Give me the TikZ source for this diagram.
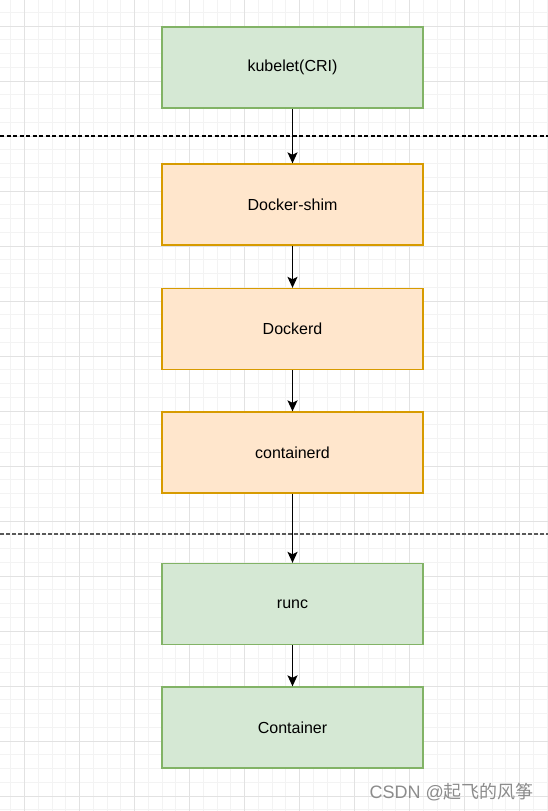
\documentclass[tikz,border=0pt]{standalone}
\usepackage{fontspec}
\setmainfont{Liberation Sans}
\newfontfamily\cjk{Noto Sans CJK SC}
\usetikzlibrary{arrows.meta}
\definecolor{gfill}{HTML}{D5E8D4}
\definecolor{gline}{HTML}{82B366}
\definecolor{ofill}{HTML}{FFE6CC}
\definecolor{oline}{HTML}{D79B00}
\definecolor{gridminor}{HTML}{F3F3F3}
\definecolor{gridmajor}{HTML}{E2E2E2}
\definecolor{wm}{HTML}{8C8C8C}
\tikzset{
  box/.style={draw, line width=1.3pt, minimum width=261pt, minimum height=81pt, inner sep=0pt,
    font=\fontsize{16}{19}\selectfont, text=black},
  greenbox/.style={box, fill=gfill, draw=gline},
  orangebox/.style={box, fill=ofill, draw=oline},
  arr/.style={line width=1.6pt, -{Stealth[length=11pt,width=10pt,inset=2.5pt]}},
  minorline/.style={gridminor, line width=0.8pt},
  majorline/.style={gridmajor, line width=0.9pt},
}
\begin{document}
\begin{tikzpicture}[x=1pt,y=-1pt]
\useasboundingbox (0,0) rectangle (548,811);
\fill[white] (0,0) rectangle (548,811);
% grid
\foreach \i in {0,...,39} {\draw[minorline] ({10.75+13.75*\i},0) -- ({10.75+13.75*\i},811);}
\foreach \j in {0,...,58} {\draw[minorline] (0,{12.25+13.75*\j}) -- (548,{12.25+13.75*\j});}
\foreach \i in {0,...,9} {\draw[majorline] ({24.5+55*\i},0) -- ({24.5+55*\i},811);}
\foreach \j in {0,...,14} {\draw[majorline] (0,{26+55*\j}) -- (548,{26+55*\j});}
% separators
\coordinate (d1l) at (0,136);
\coordinate (d1r) at (548,136);
\coordinate (d2l) at (0,534);
\coordinate (d2r) at (548,534);
\draw[black, line width=1.5pt, dash pattern=on 4pt off 2.5pt] (d1l) -- (d1r);
\draw[black!65, line width=1.5pt, dash pattern=on 3.5pt off 2.5pt] (d2l) -- (d2r);
% boxes
\node[greenbox]  (kubelet)    at (292.5,67.5)  {kubelet(CRI)};
\node[orangebox] (shim)       at (292.5,204.5) {Docker-shim};
\node[orangebox] (dockerd)    at (292.5,329)   {Dockerd};
\node[orangebox] (containerd) at (292.5,452.5) {containerd};
\node[greenbox]  (runc)       at (292.5,604)   {runc};
\node[greenbox]  (container)  at (292.5,727.5) {Container};
% arrows
\draw[arr] (kubelet.south) -- (shim.north);
\draw[arr] (shim.south) -- (dockerd.north);
\draw[arr] (dockerd.south) -- (containerd.north);
\draw[arr] (containerd.south) -- (runc.north);
\draw[arr] (runc.south) -- (container.north);
% watermark
\node[text=wm, font=\fontsize{18}{21}\selectfont, anchor=east, inner sep=0pt] (wmark) at (534,792) {CSDN @{\cjk 起飞的风筝}};
\end{tikzpicture}
\end{document}
